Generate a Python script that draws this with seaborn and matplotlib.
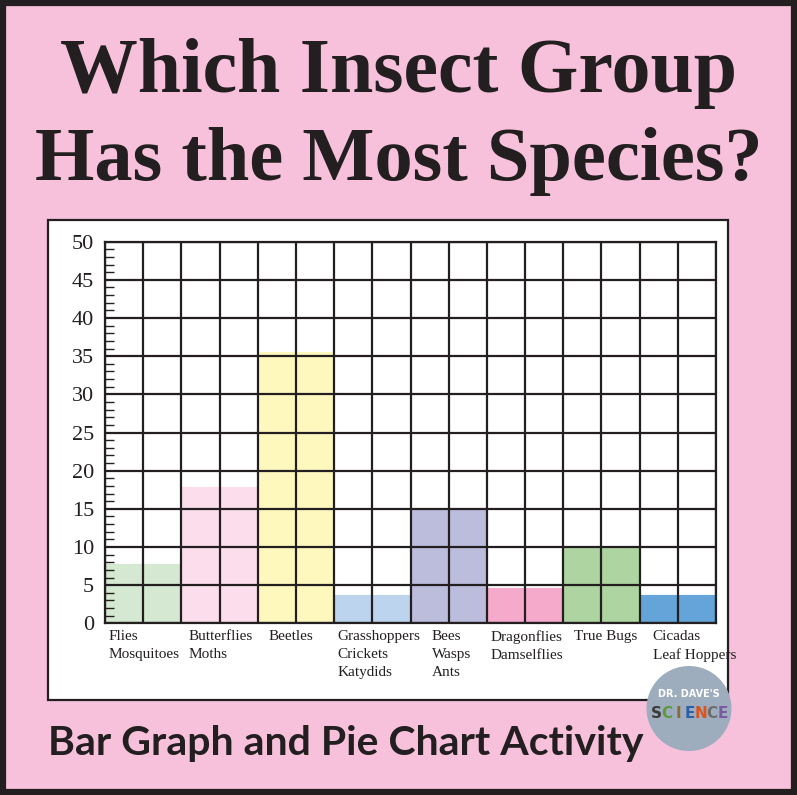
import numpy as np
import seaborn as sns
import matplotlib.pyplot as plt
from matplotlib.patches import Rectangle, Ellipse

groups = ["Flies\nMosquitoes", "Butterflies\nMoths", "Beetles",
          "Grasshoppers\nCrickets\nKatydids", "Bees\nWasps\nAnts",
          "Dragonflies\nDamselflies", "True Bugs", "Cicadas\nLeaf Hoppers"]
species_pct = [7.9, 18, 35.7, 3.8, 15, 4.8, 10, 3.9]
bar_colors = ["#D5E8D1", "#FCDDEB", "#FFF8BE", "#BCD4EE",
              "#BCBCDC", "#F6AACB", "#AED5A1", "#64A4D9"]
y_ticks = list(range(0, 51, 5))

# horizontal nudge (px) of each category label from its bar's left edge
label_nudge_px = [4, 7, 11, 3, 21, 4, 11, 13]

W, H = 797, 795
DARK = "#231F20"
PINK = "#F7C1DB"

sns.set_style("white")
fig = plt.figure(figsize=(W / 100, H / 100), dpi=100)
fig.patch.set_facecolor(PINK)

# dark outer frame + white panel (pixel coords -> figure coords)
def px_rect(x0, y0, x1, y1, **kw):
    return Rectangle((x0 / W, 1 - y1 / H), (x1 - x0) / W, (y1 - y0) / H,
                     transform=fig.transFigure, **kw)

fig.patches.append(px_rect(3, 3, W - 3, H - 3, fill=False, edgecolor=DARK, lw=4.5, zorder=0))
fig.patches.append(px_rect(48, 220, 728, 700, facecolor="white", edgecolor=DARK, lw=1.6, zorder=0))

ax = fig.add_axes([105 / W, 1 - 623.3 / H, (716 - 105) / W, (623.3 - 241.7) / H])
ax.set_zorder(3)
ax.set_facecolor("white")

sns.barplot(x=groups, y=species_pct, hue=groups, palette=bar_colors, legend=False,
            width=1.0, saturation=1, edgecolor="white", linewidth=0.6, ax=ax)

ax.set_xlim(-0.5, len(groups) - 0.5)
ax.set_ylim(0, 50)
ax.set_xticks(np.arange(-0.5, len(groups), 0.5))
ax.set_xticklabels([])
ax.set_yticks(y_ticks)
ax.set_yticks(range(0, 51), minor=True)
ax.grid(True, which="major", color=DARK, lw=1.6)
ax.set_axisbelow(False)
ax.tick_params(axis="x", length=0)
ax.tick_params(axis="y", which="major", length=0, pad=8)
ax.tick_params(axis="y", which="minor", direction="in", length=6.5, width=1.0,
               color=DARK, left=True)
for lab in ax.get_yticklabels():
    lab.set_fontfamily("Liberation Serif")
    lab.set_fontsize(16)
    lab.set_color(DARK)
for s in ax.spines.values():
    s.set_visible(True)
    s.set_color(DARK)
    s.set_linewidth(1.6)
ax.set_xlabel("")
ax.set_ylabel("")

# category labels, left aligned under each bar
for i, (g, dx) in enumerate(zip(groups, label_nudge_px)):
    ax.annotate(g, xy=(i - 0.5, 0), xycoords="data",
                xytext=(dx * 0.72, -5), textcoords="offset points",
                ha="left", va="top", fontsize=11, family="Liberation Serif",
                color=DARK, linespacing=1.5, annotation_clip=False)

# titles
fig.text(0.5, 1 - 92 / H, "Which Insect Group", ha="center", va="baseline",
         fontsize=56, fontweight="bold", family="Liberation Serif", color=DARK)
fig.text(0.5, 1 - 180 / H, "Has the Most Species?", ha="center", va="baseline",
         fontsize=55, fontweight="bold", family="Liberation Serif", color=DARK)
fig.text(48 / W, 1 - 755 / H, "Bar Graph and Pie Chart Activity", ha="left",
         va="baseline", fontsize=29.5, fontweight="bold", family="Lato", color=DARK)

# logo badge
fig.patches.append(Ellipse((689 / W, 1 - 708.5 / H), 85 / W, 85 / H,
                           transform=fig.transFigure, facecolor="#9EADBE",
                           edgecolor="none", zorder=5))
fig.text(689 / W, 1 - 697 / H, "DR. DAVE'S", ha="center", va="baseline",
         fontsize=7, fontweight="bold", family="DejaVu Sans", color="white", zorder=6)
logo_letters = "SCIENCE"
logo_colors = ["#3A3A3A", "#5C9A3A", "#8A6A3A", "#2E5FA8", "#D9541E", "#6D6D6D", "#7A5AA0"]
for k, (ch, c) in enumerate(zip(logo_letters, logo_colors)):
    fig.text((656 + k * 11.2) / W, 1 - 718 / H, ch, ha="center", va="baseline",
             fontsize=11, fontweight="bold", family="DejaVu Sans", color=c, zorder=6)

fig.savefig("out.png", dpi=100, facecolor=fig.get_facecolor())
